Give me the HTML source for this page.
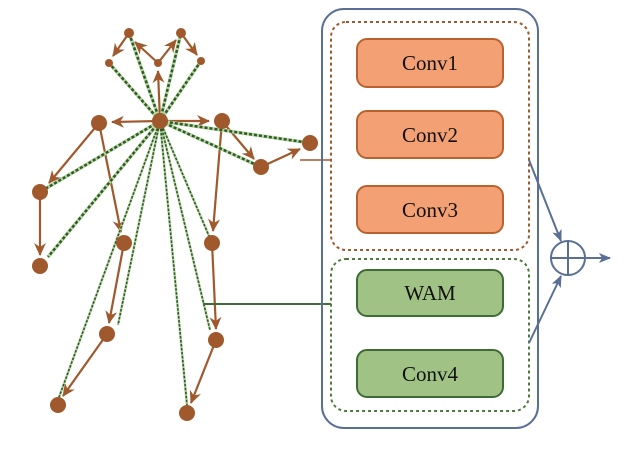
<!DOCTYPE html>
<html><head><style>body{margin:0;background:#fff}svg{display:block}</style></head><body>
<svg width="626" height="457" viewBox="0 0 626 457" xmlns="http://www.w3.org/2000/svg">
<defs>
<marker id="ab" markerWidth="13" markerHeight="12" refX="12" refY="6" orient="auto" markerUnits="userSpaceOnUse"><path d="M0,0 L13,6 L0,12 L4,6z" fill="#a0592c"/></marker>
<marker id="ag" markerWidth="12" markerHeight="10" refX="11" refY="5" orient="auto" markerUnits="userSpaceOnUse"><path d="M0,0 L12,5 L0,10 L3,5z" fill="#5a6f94"/></marker>
</defs>
<g stroke="#a0592c" stroke-width="2.2" fill="none" marker-end="url(#ab)">
<line x1="160" y1="121" x2="112" y2="122"/>
<line x1="160" y1="121" x2="209" y2="121"/>
<line x1="160" y1="121" x2="158" y2="71"/>
<line x1="158" y1="63" x2="135" y2="42"/>
<line x1="158" y1="63" x2="176" y2="40"/>
<line x1="129" y1="33" x2="113" y2="56"/>
<line x1="181" y1="33" x2="197" y2="55"/>
<line x1="99" y1="123" x2="49" y2="183"/>
<line x1="40" y1="192" x2="40" y2="255"/>
<line x1="99" y1="123" x2="121" y2="232"/>
<line x1="124" y1="243" x2="109" y2="323"/>
<line x1="107" y1="334" x2="63" y2="396"/>
<line x1="222" y1="121" x2="254" y2="159"/>
<line x1="261" y1="167" x2="300" y2="149"/>
<line x1="222" y1="121" x2="213" y2="231"/>
<line x1="212" y1="243" x2="216" y2="329"/>
<line x1="216" y1="340" x2="191" y2="403"/>
</g>
<line x1="300" y1="160" x2="331" y2="160" stroke="#a0592c" stroke-width="1.5"/>
<g stroke="#b6d6a2" stroke-width="3.5" fill="none">
<path d="M160 121L109 63M160 121L129 33M160 121L181 33M160 121L201 61M160 121L40 192M160 121L48 257M160 121L310 143M160 121L261 167"/>
</g>
<g stroke="#2f5a28" stroke-width="2.5" stroke-dasharray="3 2" fill="none">
<path d="M160 121L109 63M160 121L129 33M160 121L181 33M160 121L201 61M160 121L40 192M160 121L48 257M160 121L310 143M160 121L261 167"/>
</g>
<g stroke="#b6d6a2" stroke-width="2.5" fill="none">
<path d="M160 121L212 243M160 121L210 330M160 121L187 405M160 121L58 400M160 121L118 325"/>
</g>
<g stroke="#2f5a28" stroke-width="1.6" stroke-dasharray="2.5 1.5" fill="none">
<path d="M160 121L212 243M160 121L210 330M160 121L187 405M160 121L58 400M160 121L118 325"/>
</g>
<g fill="#a0592c">
<circle cx="160" cy="121" r="8"/>
<circle cx="129" cy="33" r="5"/><circle cx="181" cy="33" r="5"/>
<circle cx="109" cy="63" r="4"/><circle cx="158" cy="63" r="4"/><circle cx="201" cy="61" r="4"/>
<circle cx="99" cy="123" r="8"/><circle cx="222" cy="121" r="8"/>
<circle cx="40" cy="192" r="8"/><circle cx="40" cy="266" r="8"/>
<circle cx="261" cy="167" r="8"/><circle cx="310" cy="143" r="8"/>
<circle cx="124" cy="243" r="8"/><circle cx="107" cy="334" r="8"/><circle cx="58" cy="405" r="8"/>
<circle cx="212" cy="243" r="8"/><circle cx="216" cy="340" r="8"/><circle cx="187" cy="413" r="8"/>
</g>
<line x1="203" y1="304" x2="331" y2="304" stroke="#3f6b36" stroke-width="2"/>
<rect x="322" y="9" width="216" height="419" rx="22" fill="none" stroke="#5a6f94" stroke-width="2"/>
<rect x="331" y="22" width="198" height="228" rx="15" fill="none" stroke="#a0592c" stroke-width="2" stroke-dasharray="3 3"/>
<rect x="331" y="259" width="198" height="152" rx="15" fill="none" stroke="#4f7a3e" stroke-width="2" stroke-dasharray="3 3"/>
<g stroke-width="2" font-family="Liberation Serif, serif" font-size="21" text-anchor="middle">
<rect x="357" y="39" width="146" height="48" rx="10" fill="#f2a074" stroke="#b9622f"/>
<rect x="357" y="111" width="146" height="47" rx="10" fill="#f2a074" stroke="#b9622f"/>
<rect x="357" y="186" width="146" height="47" rx="10" fill="#f2a074" stroke="#b9622f"/>
<rect x="357" y="270" width="146" height="46" rx="10" fill="#a1c285" stroke="#3f6b36"/>
<rect x="357" y="350" width="146" height="47" rx="10" fill="#a1c285" stroke="#3f6b36"/>
<g stroke="none" fill="#111">
<text x="430" y="70">Conv1</text>
<text x="430" y="142">Conv2</text>
<text x="430" y="217">Conv3</text>
<text x="430" y="300">WAM</text>
<text x="430" y="381">Conv4</text>
</g>
</g>
<g stroke="#5a6f94" stroke-width="2" fill="none">
<line x1="529" y1="160" x2="561" y2="241" marker-end="url(#ag)"/>
<line x1="529" y1="343" x2="561" y2="276" marker-end="url(#ag)"/>
<line x1="585" y1="258" x2="610" y2="258" marker-end="url(#ag)"/>
<circle cx="568" cy="258" r="17"/>
<line x1="551" y1="258" x2="585" y2="258"/>
<line x1="568" y1="241" x2="568" y2="275"/>
</g>
</svg>
</body></html>
